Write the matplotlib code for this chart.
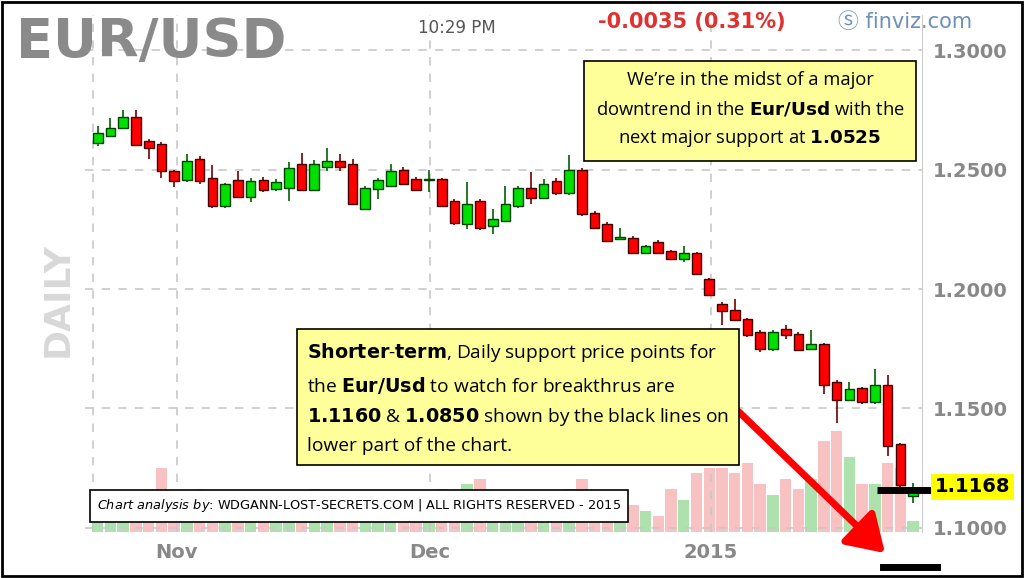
import matplotlib.pyplot as plt
from matplotlib.patches import Rectangle, FancyArrowPatch

opens = [1.2613, 1.2642, 1.2676, 1.2722, 1.2621, 1.2608, 1.2495, 1.2457, 1.2545, 1.2465,
         1.2347, 1.2457, 1.2385, 1.2457, 1.2419, 1.2423, 1.2524, 1.2415, 1.2512, 1.2537,
         1.2524, 1.2335, 1.2419, 1.2432, 1.2499, 1.2461, 1.2455, 1.2461, 1.2369, 1.2272,
         1.2369, 1.2263, 1.2284, 1.2347, 1.2423, 1.2381, 1.2453, 1.2402, 1.2499, 1.2318,
         1.2272, 1.2211, 1.2213, 1.2150, 1.2196, 1.2158, 1.2124, 1.2150, 1.2040, 1.1939,
         1.1914, 1.1876, 1.1821, 1.1750, 1.1834, 1.1813, 1.1750, 1.1771, 1.1611, 1.1535,
         1.1585, 1.1526, 1.1598, 1.1350, 1.1135]
closes = [1.2655, 1.2676, 1.2722, 1.2604, 1.2592, 1.2495, 1.2453, 1.2537, 1.2453, 1.2347,
          1.2440, 1.2385, 1.2453, 1.2415, 1.2448, 1.2507, 1.2415, 1.2524, 1.2537, 1.2512,
          1.2356, 1.2423, 1.2457, 1.2495, 1.2440, 1.2415, 1.2459, 1.2347, 1.2276, 1.2356,
          1.2255, 1.2293, 1.2356, 1.2423, 1.2381, 1.2440, 1.2402, 1.2499, 1.2314, 1.2255,
          1.2200, 1.2215, 1.2150, 1.2179, 1.2150, 1.2124, 1.2150, 1.2065, 1.1977, 1.1910,
          1.1872, 1.1809, 1.1750, 1.1821, 1.1809, 1.1745, 1.1771, 1.1598, 1.1535, 1.1581,
          1.1526, 1.1598, 1.1345, 1.1181, 1.1156]
highs = [1.2684, 1.2714, 1.2750, 1.2750, 1.2630, 1.2615, 1.2500, 1.2565, 1.2555, 1.2520,
         1.2445, 1.2495, 1.2465, 1.2470, 1.2460, 1.2530, 1.2570, 1.2540, 1.2590, 1.2565,
         1.2545, 1.2430, 1.2465, 1.2525, 1.2510, 1.2470, 1.2500, 1.2465, 1.2375, 1.2450,
         1.2375, 1.2335, 1.2430, 1.2430, 1.2490, 1.2460, 1.2465, 1.2560, 1.2505, 1.2325,
         1.2280, 1.2255, 1.2220, 1.2185, 1.2205, 1.2165, 1.2180, 1.2155, 1.2045, 1.1945,
         1.1960, 1.1880, 1.1830, 1.1830, 1.1850, 1.1820, 1.1830, 1.1775, 1.1620, 1.1610,
         1.1590, 1.1665, 1.1640, 1.1355, 1.1190]
lows = [1.2600, 1.2635, 1.2670, 1.2600, 1.2545, 1.2465, 1.2425, 1.2450, 1.2440, 1.2340,
        1.2340, 1.2380, 1.2365, 1.2405, 1.2410, 1.2370, 1.2410, 1.2410, 1.2495, 1.2495,
        1.2350, 1.2330, 1.2375, 1.2425, 1.2435, 1.2410, 1.2405, 1.2345, 1.2270, 1.2250,
        1.2245, 1.2230, 1.2280, 1.2340, 1.2355, 1.2375, 1.2395, 1.2395, 1.2305, 1.2250,
        1.2195, 1.2205, 1.2145, 1.2145, 1.2145, 1.2120, 1.2115, 1.2060, 1.1970, 1.1850,
        1.1865, 1.1800, 1.1735, 1.1740, 1.1790, 1.1740, 1.1745, 1.1560, 1.1440, 1.1530,
        1.1520, 1.1520, 1.1300, 1.1140, 1.1105]
volumes = [10, 15, 20, 20, 30, 60, 35, 30, 40, 25,
           20, 15, 20, 25, 30, 35, 30, 40, 25, 20,
           15, 25, 35, 20, 30, 20, 25, 40, 30, 45,
           50, 35, 30, 25, 20, 30, 25, 40, 50, 20,
           15, 12, 25, 20, 15, 40, 30, 55, 60, 60,
           55, 65, 45, 35, 50, 40, 50, 85, 95, 70,
           45, 45, 65, 60, 10]
month_pos = [6.2, 26.1, 48.1]
month_labels = ["Nov", "Dec", "2015"]
price_ticks = [1.10, 1.15, 1.20, 1.25, 1.30]

fig = plt.figure(figsize=(10.24, 5.78), dpi=100)
ax = fig.add_axes([85 / 1024, 46 / 578, 837 / 1024, 517 / 578])
axv = ax.twinx()
ax.set_zorder(axv.get_zorder() + 1)
ax.patch.set_visible(False)

x = list(range(len(opens)))
RED, GREEN = "#ff0000", "#00e000"
vcol = ["#9fdc9f" if c >= o else "#f7b8b8" for o, c in zip(opens, closes)]
axv.bar(x, volumes, width=0.9, color=vcol, alpha=0.85)
axv.set_ylim(0, 485)
axv.axis("off")

for i in x:
    o, c = opens[i], closes[i]
    col = GREEN if c >= o else RED
    ax.vlines(i, lows[i], highs[i], color="#700000" if col == RED else "#006000", lw=1.2, zorder=2)
    lo, hi = min(o, c), max(o, c)
    ax.add_patch(Rectangle((i - 0.38, lo), 0.76, max(hi - lo, 0.0006), facecolor=col,
                           edgecolor="#400000" if col == RED else "#004000", lw=1.0, zorder=3))

ax.set_xlim(-1.0, 64.7)
ax.set_ylim(1.0983, 1.3147)
for p in price_ticks:
    ax.axhline(p, color="#c8c8c8", ls=(0, (5, 5)), lw=1.2, zorder=1)
for m in month_pos + [-0.4]:
    ax.axvline(m, color="#c8c8c8", ls=(0, (5, 5)), lw=1.2, zorder=1)
ax.yaxis.tick_right()
ax.set_yticks(price_ticks)
ax.set_yticklabels([f"{p:.4f}" for p in price_ticks], fontsize=14, color="#888888", fontweight="bold")
ax.set_xticks(month_pos)
ax.set_xticklabels(month_labels, fontsize=14, color="#888888", fontweight="bold")
ax.tick_params(length=0, pad=8)
for s in ["top", "left", "bottom"]:
    ax.spines[s].set_visible(False)
ax.spines["right"].set_color("#cccccc")

# support line
ax.hlines(1.1160, 61.2, 65.4, color="black", lw=5, zorder=5, clip_on=False)

T = fig.transFigure
def px(xp, yp):
    return xp / 1024, 1 - yp / 578

fig.text(*px(16, 42), "EUR/USD", fontsize=39, fontweight="bold", color="#8a8a8a", va="center")
fig.text(*px(418, 28), "10:29 PM", fontsize=12, color="#555555", va="center")
fig.text(*px(598, 22), "-0.0035 (0.31%)", fontsize=15, fontweight="bold", color="#e03030", va="center")
fig.text(*px(838, 22), "\u24c8 finviz.com", fontsize=15, color="#6d8fb8", va="center",
         family=["DejaVu Sans", "Noto Sans CJK SC"])
fig.text(*px(58, 300), "DAILY", fontsize=26, fontweight="bold", color="#d8d8d8", rotation=90,
         va="center", ha="center")

fig.text(*px(750, 110), "We\u2019re in the midst of a major\ndowntrend in the $\\bf{Eur/Usd}$ with the\n"
         "next major support at $\\bf{1.0525}$", fontsize=13.2, ha="center", va="center",
         linespacing=1.65, family="Open Sans",
         bbox=dict(boxstyle="square,pad=0.65", fc="#ffff99", ec="black", lw=1.2))
fig.text(*px(307, 398), "$\\bf{Shorter}$-$\\bf{term}$, Daily support price points for\n"
         "the $\\bf{Eur/Usd}$ to watch for breakthrus are\n"
         "$\\bf{1.1160}$ & $\\bf{1.0850}$ shown by the black lines on\nlower part of the chart.",
         fontsize=13.8, ha="left", va="center", linespacing=1.65, family="Open Sans",
         bbox=dict(boxstyle="square,pad=0.5", fc="#ffff99", ec="black", lw=1.2))
fig.lines.append(plt.Line2D([308 / 1024, 413 / 1024], [1 - 362 / 578] * 2, transform=T,
                            color="black", lw=1.2))
fig.text(*px(97, 506), "$\\it{Chart\\ analysis\\ by}$: WDGANN-LOST-SECRETS.COM | ALL RIGHTS RESERVED - 2015",
         fontsize=9.3, ha="left", va="center",
         bbox=dict(boxstyle="square,pad=0.55", fc="white", ec="black", lw=1.2))
fig.text(*px(935, 487), "1.1168", fontsize=14, fontweight="bold", color="black", va="center",
         bbox=dict(boxstyle="square,pad=0.2", fc="#ffff00", ec="none"))

fig.patches.append(FancyArrowPatch(px(737, 410), px(887, 555), transform=T, color="red", lw=5,
                                   arrowstyle="-|>,head_length=2.2,head_width=1.4", mutation_scale=10))
fig.lines.append(plt.Line2D([883 / 1024, 937 / 1024], [1 - 567 / 578] * 2, transform=T,
                            color="black", lw=5))
fig.patches.append(Rectangle((0.002, 0.003), 0.996, 0.994, transform=T, fill=False, ec="black", lw=2))

fig.savefig("out.png", dpi=100)
